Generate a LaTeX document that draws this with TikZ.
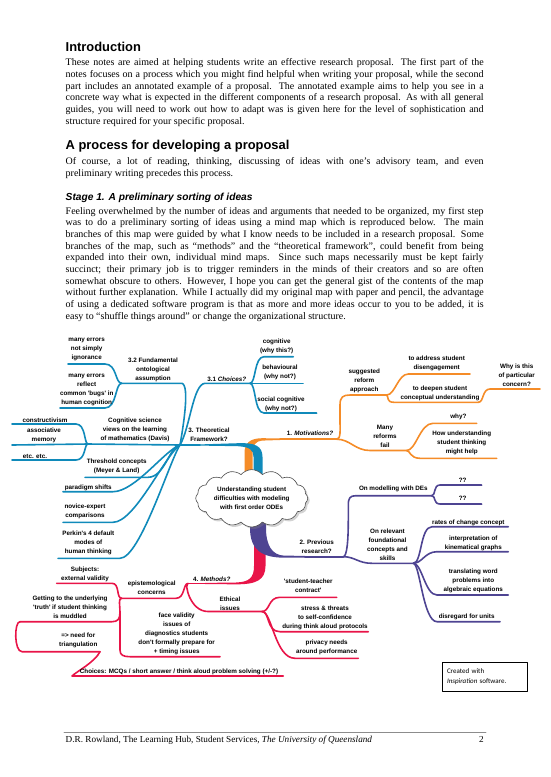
\documentclass[tikz,border=0pt]{standalone}
\usepackage{fontspec}
\setmainfont{Liberation Serif}
\newfontfamily\headfont{Liberation Sans}
\newfontfamily\mapfont{Liberation Sans}
\newfontfamily\notefont{Carlito}
\usetikzlibrary{shapes.symbols,shadows}

\definecolor{mapblue}{RGB}{16,138,186}
\definecolor{maporange}{RGB}{245,140,40}
\definecolor{mappurple}{RGB}{78,68,146}
\definecolor{mapred}{RGB}{232,20,72}

\newlength\parwd
\setlength\parwd{418pt}
\newcommand\jl[1]{\makebox[\parwd][s]{#1}}

\tikzset{
  para/.style={anchor=base west, inner sep=0pt, align=left, font=\fontsize{10}{11.65}\selectfont},
  head/.style={anchor=base west, inner sep=0pt, font=\headfont\bfseries\fontsize{12.9}{15}\selectfont},
  lbl/.style={align=center, inner sep=0pt, font=\mapfont\bfseries\fontsize{6.3}{9}\selectfont},
  brblue/.style={draw=mapblue, line width=1.6pt},
  brorange/.style={draw=maporange, line width=1.6pt},
  brpurple/.style={draw=mappurple, line width=1.6pt},
  brred/.style={draw=mapred, line width=1.6pt}
}

\begin{document}
\begin{tikzpicture}[x=1pt, y=-1pt, line cap=round, line join=round]
\useasboundingbox (0,0) rectangle (550,777);

% text of the page (a paragraph node sits on the baseline of its last line)
\node[head] (hintro) at (65.5,51.3) {Introduction};
\node[para] (introtext) at (65.5,124) {%
\jl{These notes are aimed at helping students write an effective research proposal. The first part of the}\\
\jl{notes focuses on a process which you might find helpful when writing your proposal, while the second}\\
\jl{part includes an annotated example of a proposal. The annotated example aims to help you see in a}\\
\jl{concrete way what is expected in the different components of a research proposal. As with all general}\\
\jl{guides, you will need to work out how to adapt was is given here for the level of sophistication and}\\
structure required for your specific proposal.};

\node[head] (hprocess) at (65.5,149.6) {A process for developing a proposal};
\node[para] (processtext) at (65.5,176) {%
\jl{Of course, a lot of reading, thinking, discussing of ideas with one’s advisory team, and even}\\
preliminary writing precedes this process.};

\node[head, font=\headfont\bfseries\itshape\fontsize{10.2}{12}\selectfont] (hstage) at (65.5,200.4) {Stage 1. A preliminary sorting of ideas};
\node[para] (stagetext) at (65.5,319) {%
\jl{Feeling overwhelmed by the number of ideas and arguments that needed to be organized, my first step}\\
\jl{was to do a preliminary sorting of ideas using a mind map which is reproduced below. The main}\\
\jl{branches of this map were guided by what I know needs to be included in a research proposal. Some}\\
\jl{branches of the map, such as “methods” and the “theoretical framework”, could benefit from being}\\
\jl{expanded into their own, individual mind maps. Since such maps necessarily must be kept fairly}\\
\jl{succinct; their primary job is to trigger reminders in the minds of their creators and so are often}\\
\jl{somewhat obscure to others. However, I hope you can get the general gist of the contents of the map}\\
\jl{without further explanation. While I actually did my original map with paper and pencil, the advantage}\\
\jl{of using a dedicated software program is that as more and more ideas occur to you to be added, it is}\\
easy to “shuffle things around” or change the organizational structure.};

% fan points of the map
\coordinate (bT) at (180,445);
\coordinate (bC) at (88,444);
\coordinate (b32) at (121.7,383.3);
\coordinate (b31) at (250,383.3);
\coordinate (oM) at (336.7,439.2);
\coordinate (oS) at (386.7,395);
\coordinate (oD) at (478.3,402.3);
\coordinate (oF) at (406.7,450.5);
\coordinate (pP) at (343.3,556.7);
\coordinate (pM) at (431.7,495.7);
\coordinate (pR) at (413.3,563.3);
\coordinate (rM) at (188,583.5);
\coordinate (rE) at (121.7,598.3);
\coordinate (rT) at (262,611.5);
\coordinate (rG) at (20,621.7);
\coordinate (rN) at (100,651.7);

% thick trunks out of the cloud
\fill[maporange] (244.5,478) -- (244.5,453) .. controls (244.5,443) and (250,438.4) .. (262,438.2) -- (280,438.4) -- (280,440) -- (262,440.6) .. controls (256,441) and (252.5,445) .. (252.5,453) -- (252.5,478) -- cycle;
\fill[mapblue] (253.5,478) -- (253.5,457) .. controls (253.5,450) and (250,447) .. (238,446.2) -- (200,445.6) -- (200,444.4) -- (238,443.2) .. controls (255,442.5) and (262.5,446) .. (262.5,457) -- (262.5,478) -- cycle;
\fill[mapred] (254,518) -- (254,566) .. controls (254,578) and (249,582) .. (236,582.5) -- (205,582.9) -- (205,584.1) -- (236,584.3) .. controls (256,584.5) and (265.5,580) .. (265.5,566) -- (265.5,518) -- cycle;
\fill[mappurple] (250,518) -- (250,528) .. controls (250,550) and (262,557.5) .. (284,557.7) -- (305,557.5) -- (305,555.9) -- (284,555.6) .. controls (272,555.2) and (266,545) .. (266,528) -- (266,518) -- cycle;

% 3. Theoretical framework (blue)
\draw[brblue] (200,445) -- (bT) -- (bC);
\draw[brblue] (bT) .. controls (183,428) and (190,386) .. (182,383.3) -- (b32);
\draw[brblue] (bT) .. controls (190,428) and (193,384) .. (205,383.3) -- (b31);
\draw[brblue] (b32) .. controls (115,383.3) and (117,364) .. (105,364) -- (68,364);
\draw[brblue] (b32) .. controls (115,383.3) and (117,408) .. (105,408) -- (60,408);
\draw[brblue] (b31) .. controls (256,383.3) and (254,356.7) .. (264,356.7) -- (293.3,356.7);
\draw[brblue] (b31) -- (303,383.3);
\draw[brblue] (b31) .. controls (256,383.3) and (254,413) .. (264,413) -- (316.7,413);
\draw[brblue] (bC) .. controls (84,444) and (86,424) .. (76,424) -- (12,424);
\draw[brblue] (bC) -- (12,445);
\draw[brblue] (bC) .. controls (84,444) and (86,460) .. (76,460) -- (12,460);
\draw[brblue] (bT) .. controls (170,445) and (165,477.3) .. (148,477.3) -- (85,477.3);
\draw[brblue] (bT) .. controls (165,450) and (135,491.7) .. (113,491.7) -- (63,491.7);
\draw[brblue] (bT) .. controls (165,455) and (135,522.3) .. (113,522.3) -- (63,522.3);
\draw[brblue] (bT) .. controls (170,460) and (140,558.3) .. (120,558.3) -- (58,558.3);

% 1. Motivations (orange)
\draw[brorange] (280,439.2) -- (oM);
\draw[brorange] (oM) .. controls (341,439.2) and (340,430) .. (340,420) -- (340,405) .. controls (340,397) and (343,395) .. (350,395) -- (oS);
\draw[brorange] (oS) .. controls (395,395) and (398,374) .. (408.3,374) -- (470,374);
\draw[brorange] (oS) .. controls (389,397) and (386,402.3) .. (394,402.3) -- (oD);
\draw[brorange] (oD) .. controls (484,402.3) and (482,389) .. (490,389) -- (540,389);
\draw[brorange] (oM) .. controls (350,439.2) and (355,450.5) .. (370,450.5) -- (oF);
\draw[brorange] (oF) .. controls (416,450.5) and (420,423.3) .. (433,423.3) -- (476.7,423.3);
\draw[brorange] (oF) .. controls (410,450.5) and (410,458.3) .. (420,458.3) -- (496.7,458.3);

% 2. Previous research (purple)
\draw[brpurple] (305,556.7) -- (pP);
\draw[brpurple] (pP) .. controls (347,556.7) and (348.3,540) .. (348.3,520) -- (348.3,505) .. controls (348.3,498) and (350,495.7) .. (356,495.7) -- (pM);
\draw[brpurple] (pM) .. controls (436,495.7) and (433,485) .. (440,485) -- (481.7,485);
\draw[brpurple] (pM) .. controls (436,495.7) and (433,504) .. (440,504) -- (481.7,504);
\draw[brpurple] (pP) .. controls (355,556.7) and (358,563.3) .. (372,563.3) -- (pR);
\draw[brpurple] (pR) .. controls (422,563.3) and (420,526.7) .. (432,526.7) -- (508.3,526.7);
\draw[brpurple] (pR) .. controls (422,563.3) and (425,551.7) .. (437,551.7) -- (508.3,551.7);
\draw[brpurple] (pR) .. controls (422,563.3) and (425,595) .. (437,595) -- (508.3,595);
\draw[brpurple] (pR) .. controls (420,563.3) and (423,621.7) .. (437,621.7) -- (500,621.7);

% 4. Methods (red)
\draw[brred] (205,583.5) -- (rM);
\draw[brred] (rM) .. controls (183,583.5) and (185,598.3) .. (176,598.3) -- (rE);
\draw[brred] (rM) .. controls (184,583.5) and (190,611.5) .. (208,611.5) -- (rT);
\draw[brred] (rE) .. controls (116,598.3) and (120,583.3) .. (112,583.3) -- (56.7,583.3);
\draw[brred] (rE) .. controls (118,598.3) and (120,605) .. (120,612) -- (120,650) .. controls (120,655) and (123,656.7) .. (130,656.7) -- (220,656.7);
\draw[brred] (120,612) .. controls (120,619) and (118,621.7) .. (112,621.7) -- (rG);
\draw[brred] (rG) .. controls (14,621.7) and (14,651.7) .. (22,651.7) -- (rN);
\draw[brred] (rN) .. controls (95,662) and (76,672) .. (72,676) -- (283.3,676);
\draw[brred] (rT) .. controls (270,611.5) and (268,597.3) .. (280,597.3) -- (336.7,597.3);
\draw[brred] (rT) .. controls (270,611.5) and (266,631.7) .. (280,631.7) -- (368.3,631.7);
\draw[brred] (rT) .. controls (272,611.5) and (275,658.3) .. (295,658.3) -- (358.3,658.3);

% central idea
\node[cloud, cloud puffs=16, cloud puff arc=100, aspect=2.2, draw=black!70, line width=0.6pt, fill=white,
  drop shadow={opacity=0.35, shadow xshift=2pt, shadow yshift=-2pt},
  lbl, minimum width=112pt, minimum height=54pt] (core) at (251.7,498.3)
  {Understanding student\\difficulties with modeling\\with first order ODEs};

% labels, blue branch
\node[lbl] (l32a) at (86.7,349) {many errors\\not simply\\ignorance};
\node[lbl] (l32) at (153,370) {3.2 Fundamental\\ontological\\assumption};
\node[lbl] (l32b) at (86.7,390) {many errors\\reflect\\common 'bugs' in\\human cognition};
\node[lbl] (l31) at (226.7,379.7) {3.1 \textit{Choices?}};
\node[lbl] (l31a) at (276.7,346.5) {cognitive\\(why this?)};
\node[lbl] (l31b) at (280,372.2) {behavioural\\(why not?)};
\node[lbl] (l31c) at (281,404) {social cognitive\\(why not?)};
\node[lbl] (l3) at (209,435) {3. Theoretical\\Framework?};
\node[lbl] (lcog) at (135,429.4) {Cognitive science\\views on the learning\\of mathematics (Davis)};
\node[lbl] (lcon) at (45,420.7) {constructivism};
\node[lbl] (lass) at (44,435.7) {associative\\memory};
\node[lbl] (letc) at (35,456.7) {etc. etc.};
\node[lbl] (lthr) at (116.7,466.7) {Threshold concepts\\(Meyer \& Land)};
\node[lbl] (lpar) at (88.3,488.3) {paradigm shifts};
\node[lbl] (lnov) at (85,511.3) {novice-expert\\comparisons};
\node[lbl] (lper) at (88.3,542.8) {Perkin's 4 default\\modes of\\human thinking};

% labels, orange branch
\node[lbl] (l1) at (310,433.3) {1. \textit{Motivations?}};
\node[lbl] (lsug) at (364.3,380.8) {suggested\\reform\\approach};
\node[lbl] (ladd) at (436.7,363.4) {to address student\\disengagement};
\node[lbl] (ldee) at (440,393.5) {to deepen student\\conceptual understanding};
\node[lbl] (lwhy) at (516.7,374.8) {Why is this\\of particular\\concern?};
\node[lbl] (lmany) at (385,436.1) {Many\\reforms\\fail};
\node[lbl] (lwhy2) at (458.3,417.3) {why?};
\node[lbl] (lhow) at (461.7,443.3) {How understanding\\student thinking\\might help};

% labels, purple branch
\node[lbl] (l2) at (316.7,547.2) {2. Previous\\research?};
\node[lbl] (lmod) at (393.3,489.3) {On modelling with DEs};
\node[lbl] (lq1) at (462.7,480) {??};
\node[lbl] (lq2) at (462.7,498.3) {??};
\node[lbl] (lrel) at (387.5,545) {On relevant\\foundational\\concepts and\\skills};
\node[lbl] (lrat) at (468.3,523.3) {rates of change concept};
\node[lbl] (lint) at (473.3,543) {interpretation of\\kinematical graphs};
\node[lbl] (ltra) at (473.3,581) {translating word\\problems into\\algebraic equations};
\node[lbl] (ldis) at (466.7,617.3) {disregard for units};

% labels, red branch
\node[lbl] (l4) at (211.7,579) {4. \textit{Methods?}};
\node[lbl] (lepi) at (151.7,588) {epistemological\\concerns};
\node[lbl] (lsub) at (85,574.7) {Subjects:\\external validity};
\node[lbl] (lget) at (70,607.7) {Getting to the underlying\\'truth' if student thinking\\is muddled};
\node[lbl] (ltri) at (78.3,640.4) {=> need for\\triangulation};
\node[lbl] (lcho) at (179,671.7) {Choices: MCQs / short answer / think aloud problem solving (+/-?)};
\node[lbl] (lfac) at (176.7,633.4) {face validity\\issues of\\diagnostics students\\don't formally prepare for\\+ timing issues};
\node[lbl] (leth) at (230,603.3) {Ethical\\issues};
\node[lbl] (lstu) at (308.3,586.2) {'student-teacher\\contract'};
\node[lbl] (lstr) at (325,617.5) {stress \& threats\\to self-confidence\\during think aloud protocols};
\node[lbl] (lpri) at (326.7,647.8) {privacy needs\\around performance};

% credit box
\node[draw, line width=0.6pt, anchor=north west, text width=75pt, align=left, inner xsep=5pt, inner ysep=0pt,
  minimum height=29.3pt, font=\notefont\fontsize{7}{10}\selectfont] (credit) at (441.7,661.7)
  {Created with\\\textit{Inspiration} software.};

% footer
\coordinate (ruleL) at (64,732.5);
\coordinate (ruleR) at (486,732.5);
\draw[black!45, line width=0.6pt] (ruleL) -- (ruleR);
\node[anchor=base west, inner sep=0pt, font=\fontsize{9.2}{11}\selectfont] (foot) at (65.5,742)
  {D.R. Rowland, The Learning Hub, Student Services, \textit{The University of Queensland}};
\node[anchor=base east, inner sep=0pt, font=\fontsize{9.2}{11}\selectfont] (page) at (484,742) {2};
\end{tikzpicture}
\end{document}
